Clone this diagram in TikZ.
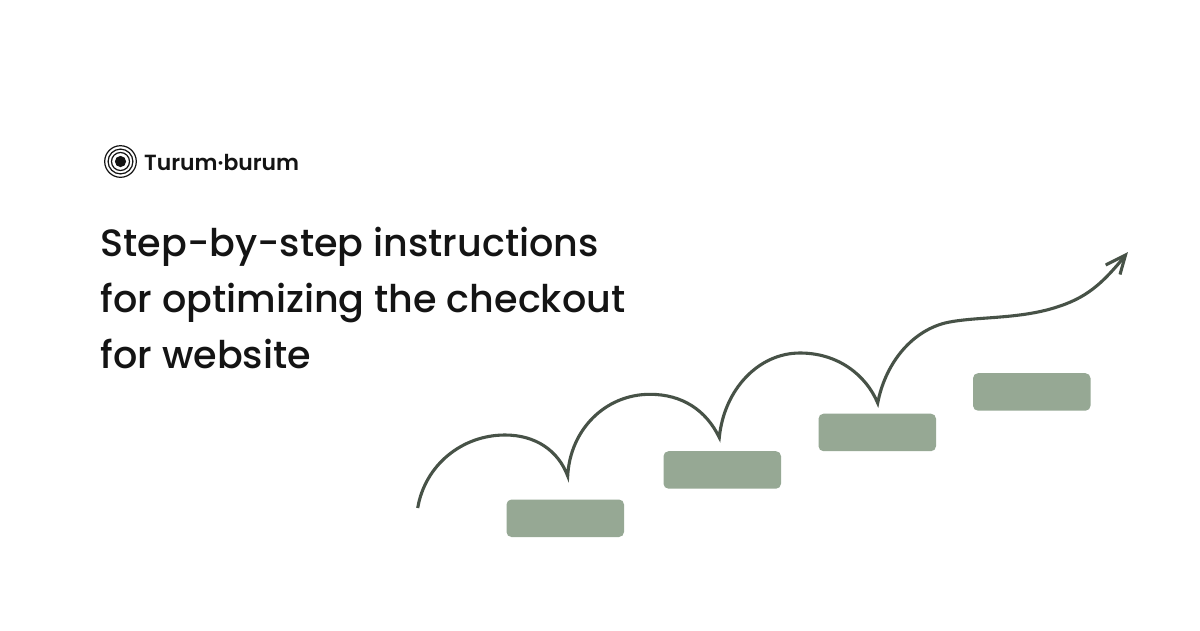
\documentclass[tikz,border=0pt]{standalone}
\usepackage{fontspec}
\setmainfont{Poppins}[UprightFont=* Medium,BoldFont=* SemiBold]
\definecolor{stepgreen}{HTML}{96A894}
\definecolor{curvegreen}{HTML}{475247}
\definecolor{ink}{HTML}{141414}
\tikzset{
  stepbox/.style={fill=stepgreen,draw=none,rounded corners=5pt},
  jump/.style={draw=curvegreen,line width=3.1pt,line cap=butt,line join=miter},
  head/.style={draw=curvegreen,line width=3.1pt,line join=miter},
  title/.style={anchor=base west,inner sep=0pt,text=ink,font=\fontsize{38.1}{38.1}\selectfont},
  ring/.style={draw=ink,line width=1.2pt,fill=none}
}
\begin{document}
\begin{tikzpicture}[x=1pt,y=-1pt]
\useasboundingbox (0,0) rectangle (1200,630);
\fill[white] (0,0) rectangle (1200,630);
% logo
\draw[ring] (120.5,161.5) circle[radius=15.8];
\draw[ring] (120.5,161.5) circle[radius=12.4];
\draw[ring] (120.5,161.5) circle[radius=9];
\fill[ink] (120.5,161.5) circle[radius=5.6];
\node[anchor=base west,inner sep=0pt,text=ink,font=\bfseries\fontsize{21.9}{22}\selectfont] (brand) at (144,170) {Turum·burum};
% title
\node[title] (t1) at (100.5,256) {Step-by-step instructions};
\node[title] (t2) at (100.5,312) {for optimizing the checkout};
\node[title] (t3) at (100.5,368) {for website};
% steps
\fill[stepbox] (506.5,499.5) rectangle (624,537);
\fill[stepbox] (663.5,451.2) rectangle (781,488.7);
\fill[stepbox] (818.5,413.7) rectangle (936,451.2);
\fill[stepbox] (973,373.2) rectangle (1090.5,410.7);
% curve
\draw[jump] (417.7,508)
  .. controls (425,465) and (462,435) .. (505,435)
  .. controls (535,435) and (558,450) .. (567.7,476)
  .. controls (570,430) and (605,394.3) .. (650,394.3)
  .. controls (682,394.3) and (706,410) .. (719.3,437.5)
  .. controls (724,390) and (758,353) .. (800,353)
  .. controls (838,353) and (866,375) .. (877.7,403)
  .. controls (885,365) and (910,332) .. (945,323)
  .. controls (975,316) and (1020,320) .. (1060,306)
  .. controls (1090,296) and (1105,280) .. (1125,256);
\draw[head] (1105.7,265) -- (1125.5,255) -- (1120,274.5);
\end{tikzpicture}
\end{document}
